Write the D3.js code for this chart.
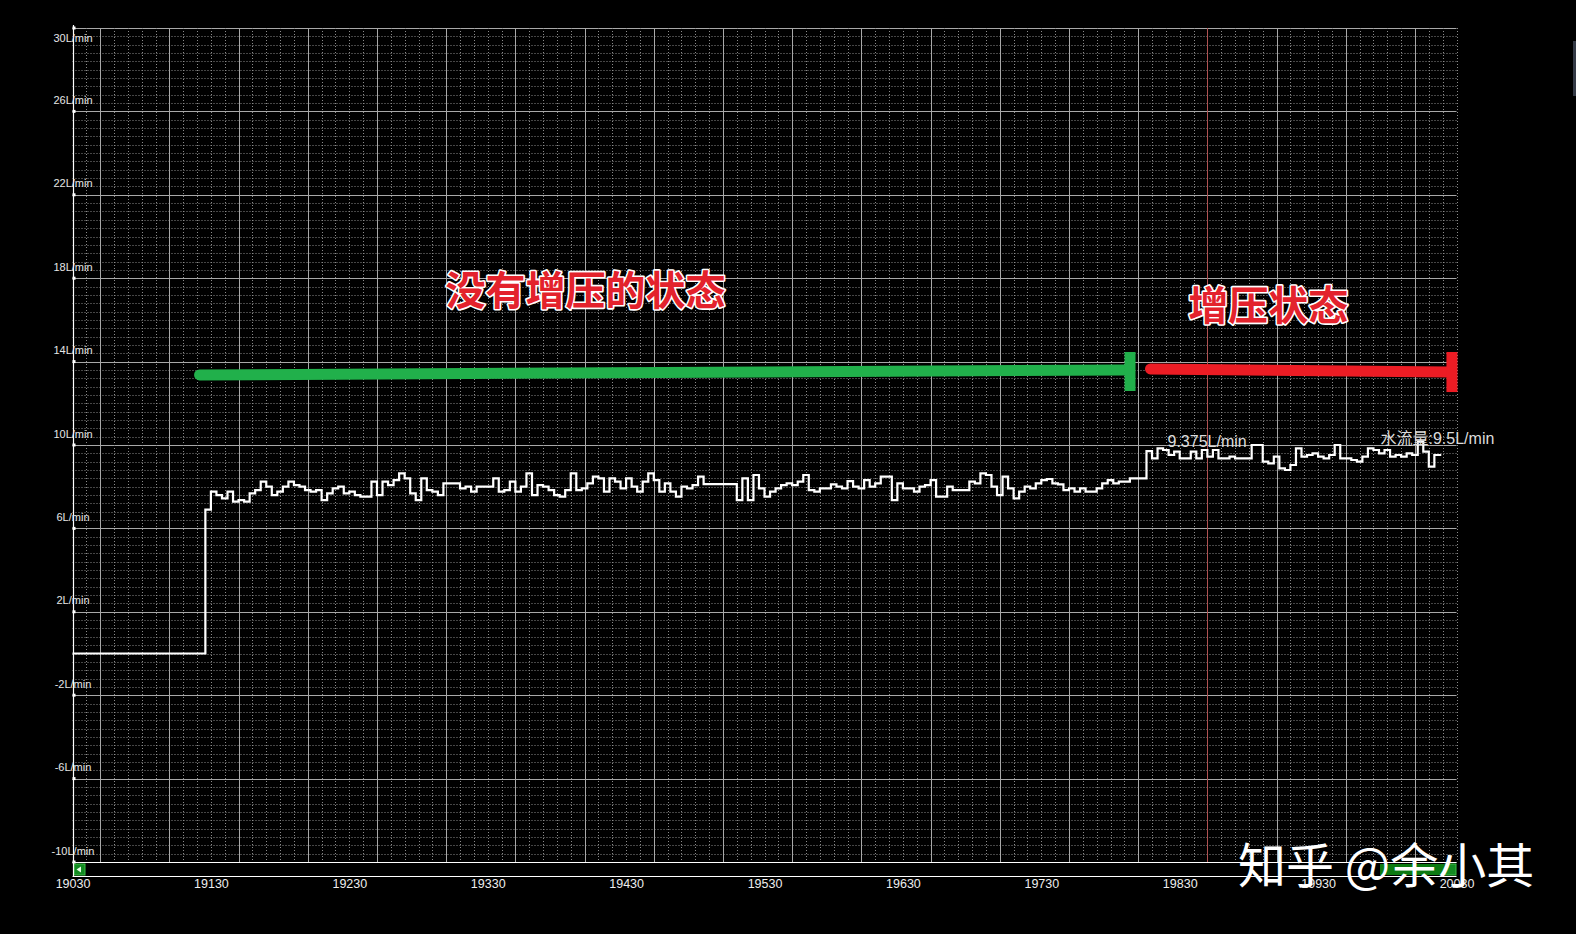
<!DOCTYPE html>
<html><head><meta charset="utf-8">
<script src="https://cdn.jsdelivr.net/npm/d3@7"></script>
<style>html,body{margin:0;padding:0;background:#000;overflow:hidden}svg{display:block}</style>
</head><body>
<svg id="c" width="1576" height="934"></svg>
<script>
// ---------- data ----------
const xTicks = [19030,19130,19230,19330,19430,19530,19630,19730,19830,19930,20030];
const yTicks = [-10,-6,-2,2,6,10,14,18,22,26,30];
const yUnit = "L/min";
const leadIn = [[19030,0],[19126,6.9]];
const sampleStart = 19130, sampleStep = 4, lineEnd = 20019;
const flowNoBoost1 = [7.76,7.60,7.44,7.76,7.28,7.36,7.28,7.68,7.84,8.24,
 8.00,7.60,7.76,8.00,8.24,8.08,8.00,7.84,7.76,7.84,
 7.36,7.68,7.92,8.00,7.68,7.76,7.60,7.52,7.52,8.24,
 7.60,8.24,8.08,8.32,8.64,8.40,7.68,7.36,8.40,7.84,
 7.76,7.60,8.16,8.16,8.16,7.92,8.00,7.76,8.00,8.00,
 8.00,8.40,7.76,7.84,8.24,7.76,8.00,8.64,7.60,8.08,
 8.00,7.84,7.60,7.52,7.84,8.64,7.84];
const flowNoBoost2 = [7.92,8.16,8.48,8.40,7.76,8.40,8.24,7.92,8.40,8.00,
 7.76,8.24,8.64,8.32,7.76,8.16,7.76,7.52,8.00,7.92,
 8.08,8.48,8.12,8.12,8.12,8.12,8.12,8.12,7.36,8.40,
 7.36,8.56,7.92,7.52,7.76,7.92,8.08,8.16,8.08,8.24,
 8.56,7.84,7.76];
const flowNoBoost3 = [7.92,7.92,8.11,8.00,7.92,8.27,8.00,7.92,8.32,8.00,
 8.16,8.48,8.48,7.36,8.16,7.92,7.92,7.76,8.00,8.08,
 8.32,7.52,7.52,8.00,7.84,7.84,7.84,8.24,8.16,8.64,
 8.56,8.00,7.60,8.48,7.92,7.44,7.76,8.00,7.92,8.16,
 8.32,8.37,8.16,8.11,7.84,7.92,7.76,7.92,7.76,7.76,
 7.92,8.16,8.32,8.16,8.24,8.24];
const flowBoost = [8.40,8.40,8.40,9.71,9.36,9.84,9.76,9.52,9.68,9.36,
 9.36,9.68,9.36,9.76,9.44,9.76,9.36,9.36,9.44,9.36,
 9.36,9.36,10.0,10.0,9.20,9.12,9.44,8.88,8.80,9.04,
 9.84,9.44,9.52,9.60,9.44,9.36,9.52,10.0,9.36,9.36,
 9.28,9.20,9.44,9.84,9.76,9.60,9.76,9.44,9.52,9.44,
 9.60,9.52,10.16,9.68,8.96,9.52];
const phases = [
 {name:"没有增压的状态", color:"#21b04b", t0:19121.8, v0:13.36, t1:19790.1, v1:13.60, capT:19794.1, capLo:12.59, capHi:14.46, labelT:19400.7, labelV:16.71},
 {name:"增压状态", color:"#ec1c24", t0:19808.9, v0:13.65, t1:20023.5, v1:13.50, capT:20026.7, capLo:12.54, capHi:14.46, labelT:19894, labelV:16.0}
];
const valueLabels = [
 {text:"9.375L/min", t:19821.2, v:9.90},
 {text:"水流量:9.5L/min", t:19975.1, v:10.05}
];
const cursorTime = 19850;
const watermark = "知乎 @余小其";

// ---------- drawing ----------
const svg = d3.select("#c");
const W = 1576, H = 934;
svg.append("rect").attr("width",W).attr("height",H).attr("fill","#000");
const x = d3.scaleLinear([19030,20030],[72.5,1456.5]);
const y = d3.scaleLinear([-10,30],[862,28]);
const X0 = x.range()[0], X1 = x.range()[1], Y0 = y.range()[0], Y1 = y.range()[1];
const LAT = "'Liberation Sans', Arial, 'Noto Sans CJK SC', sans-serif";

const grid = svg.append("g");
// horizontal minor + major
d3.range(0,101).forEach(k=>{
  const v = -10 + 0.4*k, yy = Math.round(y(v))+0.5;
  const major = k%10===0;
  grid.append("line").attr("x1",X0).attr("x2",X1).attr("y1",yy).attr("y2",yy)
    .attr("stroke", major? "#a8a8a8":"#8a8a8a").attr("stroke-width",1)
    .attr("stroke-dasharray", major? null : "1,2");
});
// vertical minor + major
d3.range(19040,20031,10).forEach(t=>{
  const xx = Math.round(x(t))+0.5;
  const major = (t-19050)%50===0;
  grid.append("line").attr("x1",xx).attr("x2",xx).attr("y1",Y1).attr("y2",Y0)
    .attr("stroke", t===cursorTime? "#b05252" : (major? "#a8a8a8":"#8a8a8a"))
    .attr("stroke-width",1).attr("stroke-dasharray", major? null : "1,2");
});

// frame: bottom border, scrollbar
svg.append("line").attr("x1",X0).attr("x2",X1).attr("y1",862.5).attr("y2",862.5).attr("stroke","#fff");
svg.append("line").attr("x1",X0).attr("x2",X1).attr("y1",876.5).attr("y2",876.5).attr("stroke","#fff");
svg.append("rect").attr("x",74).attr("y",864).attr("width",11).attr("height",11).attr("fill","#138a22").attr("stroke","#3bbf45").attr("stroke-width",1);
svg.append("path").attr("d","M76.5,869.5 L81,866.5 L81,872.5 Z").attr("fill","#e8ffe8");
svg.append("rect").attr("x",1380).attr("y",864).attr("width",64).attr("height",11).attr("fill","#0c7a12");
svg.append("rect").attr("x",1445).attr("y",864).attr("width",11).attr("height",11).attr("fill","#138a22").attr("stroke","#3bbf45");
svg.append("rect").attr("x",1573).attr("y",41).attr("width",3).attr("height",55).attr("fill","#343a46");

// left axis
svg.append("line").attr("x1",73.5).attr("x2",73.5).attr("y1",25).attr("y2",876).attr("stroke","#fff").attr("stroke-width",1.2);
yTicks.forEach(v=>{
  const yy = y(v);
  svg.append("rect").attr("x",72.5).attr("y",yy-1.5).attr("width",3).attr("height",3).attr("fill","#fff");
  svg.append("text").attr("x",73).attr("y",Math.max(yy-7.5,42))
    .attr("text-anchor","middle").attr("fill","#e6e6e6")
    .style("font-family",LAT).style("font-size","11px").text(v+yUnit);
});

// bottom axis via d3 axis
const xa = svg.append("g").attr("transform","translate(0,876)")
  .call(d3.axisBottom(x).tickValues(xTicks).tickSize(0).tickPadding(0).tickFormat(d3.format("d")));
xa.select(".domain").remove();
xa.selectAll("text").attr("fill","#eeeeee").attr("y",12).attr("dy",0)
  .style("font-family",LAT).style("font-size","12.5px");

// data line
const series = leadIn.slice();
[...flowNoBoost1, ...flowNoBoost2, ...flowNoBoost3, ...flowBoost].forEach((v,i)=>series.push([sampleStart+i*sampleStep, v]));
series.push([lineEnd, series[series.length-1][1]]);
svg.append("path").datum(series)
  .attr("d", d3.line().x(d=>x(d[0])).y(d=>y(d[1])).curve(d3.curveStepAfter))
  .attr("fill","none").attr("stroke","#fff").attr("stroke-width",2.2).attr("stroke-linejoin","miter");

// value labels
valueLabels.forEach(l=>{
  svg.append("text").attr("x",x(l.t)).attr("y",y(l.v)).attr("fill","#dcdcdc")
    .style("font-family",LAT).style("font-size","16px").text(l.text);
});

// phase annotations
phases.forEach(p=>{
  svg.append("line").attr("x1",x(p.t0)).attr("y1",y(p.v0)).attr("x2",x(p.t1)).attr("y2",y(p.v1))
    .attr("stroke",p.color).attr("stroke-width",11).attr("stroke-linecap","round");
  svg.append("rect").attr("x",x(p.capT)-5.5).attr("width",11)
    .attr("y",y(p.capHi)).attr("height",y(p.capLo)-y(p.capHi)).attr("fill",p.color);
  svg.append("text").attr("x",x(p.labelT)).attr("y",y(p.labelV)).attr("text-anchor","middle")
    .attr("fill","#e3222c").attr("stroke","#ffffff").attr("stroke-width",3.2)
    .attr("stroke-linejoin","round").attr("paint-order","stroke")
    .style("font-family","'Noto Sans CJK SC', sans-serif").style("font-weight","bold").style("font-size","40px")
    .text(p.name);
});

// watermark
svg.append("text").attr("x",1238).attr("y",883).attr("fill","#ffffff")
  .style("font-family","'Noto Sans CJK SC', sans-serif").style("font-size","48px").text(watermark);
</script>
</body></html>
